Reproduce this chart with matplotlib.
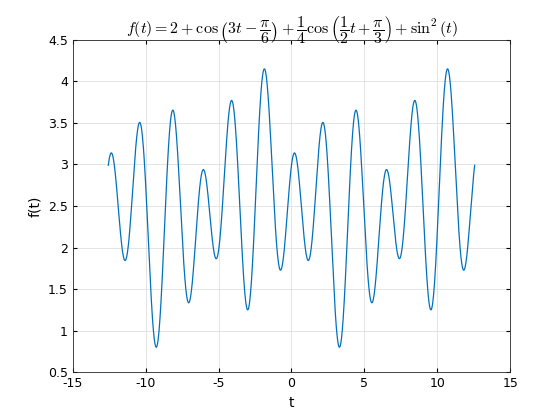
import numpy as np
import matplotlib
matplotlib.use("Agg")
import matplotlib.pyplot as plt

# f(t) = 2 + cos(3t - pi/6) + 1/4 cos(t/2 + pi/3) + sin^2(t), as given in the title
offset = 2.0
amp_1, freq_1, phase_1 = 1.0, 3.0, -np.pi / 6
amp_2, freq_2, phase_2 = 0.25, 0.5, np.pi / 3
t_start, t_stop, n_points = -4 * np.pi, 4 * np.pi, 2000

x_ticks = [-15, -10, -5, 0, 5, 10, 15]
y_ticks = [0.5, 1, 1.5, 2, 2.5, 3, 3.5, 4, 4.5]

t = np.linspace(t_start, t_stop, n_points)
f = (offset + amp_1 * np.cos(freq_1 * t + phase_1)
     + amp_2 * np.cos(freq_2 * t + phase_2) + np.sin(t) ** 2)

plt.rcParams['mathtext.fontset'] = 'cm'
fig = plt.figure(figsize=(5.6, 4.2), dpi=100)
ax = fig.add_axes([0.130, 0.114, 0.781, 0.791])
ax.plot(t, f, color='#0072BD', linewidth=0.9)
ax.set_xlim(-15, 15)
ax.set_ylim(0.5, 4.5)
ax.set_xticks(x_ticks)
ax.set_yticks(y_ticks)
ax.set_xticklabels([str(v) for v in x_ticks])
ax.set_yticklabels([f"{v:g}" for v in y_ticks])
ax.grid(True, color='#dfdfdf', linewidth=0.6)
ax.set_axisbelow(True)
ax.tick_params(direction='in', labelsize=9, length=3, top=True, right=True)
for s in ax.spines.values():
    s.set_color('#262626')
    s.set_linewidth(0.6)
ax.set_xlabel('t', fontsize=10)
ax.set_ylabel('f(t)', fontsize=10)
ax.set_title(r'$f(t) = 2 + \cos\left(3t - \dfrac{\pi}{6}\right) + \dfrac{1}{4}\cos\left(\dfrac{1}{2}t + \dfrac{\pi}{3}\right) + \sin^2(t)$',
             fontsize=11.5, pad=4)
fig.savefig('out.png', dpi=100)
